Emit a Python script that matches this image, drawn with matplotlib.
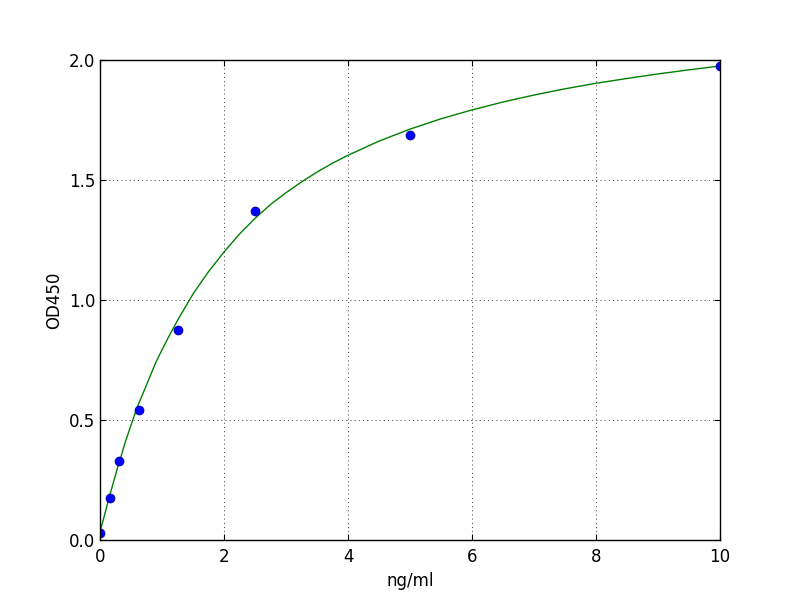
import numpy as np
import matplotlib
matplotlib.use("Agg")
import matplotlib.pyplot as plt

# standard concentrations (ng/ml) and measured OD450
conc = [0, 0.156, 0.3125, 0.625, 1.25, 2.5, 5, 10]
od = [0.03, 0.175, 0.33, 0.54, 0.875, 1.372, 1.687, 1.975]

# fitted curve
curve_x = [0, 0.05, 0.1, 0.15, 0.2, 0.3, 0.35, 0.4, 0.5, 0.6, 0.75, 0.9,
           1.0, 1.1, 1.25, 1.5, 1.75, 2, 2.25, 2.5, 2.75, 3, 3.25, 3.5,
           3.75, 4, 4.5, 5, 5.5, 6, 6.5, 7, 7.5, 8, 8.5, 9, 9.5, 10]
curve_y = [0.035, 0.082, 0.13, 0.18, 0.225, 0.317, 0.357, 0.402, 0.478,
           0.553, 0.646, 0.740, 0.792, 0.843, 0.915, 1.025, 1.118, 1.200,
           1.275, 1.340, 1.398, 1.447, 1.492, 1.533, 1.570, 1.603, 1.662,
           1.712, 1.755, 1.792, 1.825, 1.854, 1.880, 1.903, 1.923, 1.942,
           1.959, 1.975]

fig = plt.figure(figsize=(8, 6), dpi=100)
ax = fig.add_axes([0.125, 0.1, 0.775, 0.8])

ax.plot(curve_x, curve_y, color=(0, 0.5, 0), lw=1.0)
ax.plot(conc, od, 'o', color=(0, 0, 1), markeredgecolor=(0, 0, 0.55),
        markeredgewidth=0.5, markersize=6.5)

ax.set_xlim(0, 10)
ax.set_ylim(0, 2.0)
ax.set_xticks([0, 2, 4, 6, 8, 10])
ax.set_yticks([0.0, 0.5, 1.0, 1.5, 2.0])
ax.set_yticklabels(['0.0', '0.5', '1.0', '1.5', '2.0'])
ax.grid(True, color='black', linestyle=(0, (1.5, 4.5)), linewidth=0.5)
ax.tick_params(direction='in', top=True, right=True, length=4, labelsize=12)
ax.tick_params(axis='x', pad=6)
for s in ax.spines.values():
    s.set_linewidth(1.0)

ax.set_xlabel('ng/ml', fontsize=12)
ax.set_ylabel('OD450', fontsize=12)

fig.savefig('out.png', dpi=100)
